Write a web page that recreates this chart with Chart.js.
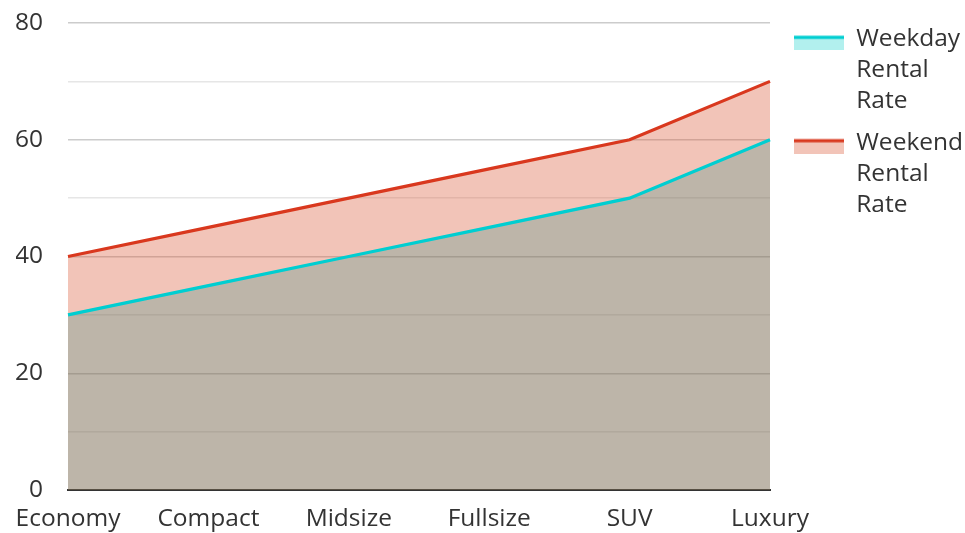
<!DOCTYPE html>
<html><head><meta charset="utf-8">
<script src="https://cdn.jsdelivr.net/npm/chart.js@4/dist/chart.umd.min.js"></script>
<style>html,body{margin:0;padding:0;background:#fff;overflow:hidden}#wrap{width:965px;height:533px}</style>
</head><body><div id="wrap"><canvas id="c" width="965" height="533"></canvas></div>
<script>
const categories = ['Economy', 'Compact', 'Midsize', 'Fullsize', 'SUV', 'Luxury'];
const weekdayRates = [30, 35, 40, 45, 50, 60];
const weekendRates = [40, 45, 50, 55, 60, 70];
const seriesNames = ['Weekday Rental Rate', 'Weekend Rental Rate'];
const yLabelStep = 20;

const FONT = "'Open Sans', 'Noto Sans', sans-serif";
const TEXT = '#333333';
const FS = 24.5;

function makeSwatch(lineColor, boxColor) {
  const c = document.createElement('canvas');
  c.width = 64; c.height = 22;
  const g = c.getContext('2d');
  g.fillStyle = boxColor; g.fillRect(14, 10, 50, 12);
  g.fillStyle = lineColor; g.fillRect(14, 7.5, 50, 3.2);
  return c;
}
const swatches = [makeSwatch('#00ced1', '#b2f0ee'), makeSwatch('#d9381e', '#f2c4b8')];

new Chart(document.getElementById('c'), {
  type: 'line',
  data: {
    labels: categories,
    datasets: [
      { label: seriesNames[0], data: weekdayRates, borderColor: '#00ced1', borderWidth: 3.2,
        backgroundColor: 'rgba(123,107,83,0.5)', fill: 'origin', pointRadius: 0, tension: 0 },
      { label: seriesNames[1], data: weekendRates, borderColor: '#d9381e', borderWidth: 3.2,
        backgroundColor: 'rgba(218,86,52,0.35)', fill: '-1', pointRadius: 0, tension: 0 }
    ]
  },
  options: {
    responsive: false,
    animation: false,
    layout: { padding: { left: 16, right: 0, top: 0, bottom: 0 } },
    plugins: {
      tooltip: { enabled: false },
      legend: {
        position: 'right', align: 'start', maxWidth: 195,
        title: { display: true, text: '', font: { size: 10, lineHeight: 1 }, padding: { top: 0, bottom: 7 } },
        labels: {
          usePointStyle: true, pointStyleWidth: 64, boxHeight: 22,
          padding: 10, color: TEXT,
          font: { family: FONT, size: FS, lineHeight: 1.27 },
          generateLabels(chart) {
            const items = Chart.defaults.plugins.legend.labels.generateLabels(chart);
            return items.map((it, i) => Object.assign(it, {
              text: String(it.text).split(' '),
              pointStyle: swatches[i]
            }));
          }
        }
      }
    },
    scales: {
      x: {
        offset: false,
        afterFit(s) { s.height = 43; },
        grid: { display: false, drawTicks: false },
        border: { display: true, color: '#333333', width: 2 },
        ticks: { color: TEXT, padding: 14, font: { family: FONT, size: FS }, maxRotation: 0, autoSkip: false }
      },
      y: {
        min: 0, max: 80,
        afterFit(s) { s.paddingTop = 23; s.width = 52; },
        grid: {
          drawTicks: false, lineWidth: 1.5,
          color: (ctx) => (ctx.tick && ctx.tick.value % yLabelStep === 0) ? '#cccccc' : '#e6e6e6'
        },
        border: { display: false },
        ticks: {
          stepSize: 10, padding: 25, color: TEXT,
          font: { family: FONT, size: FS },
          callback: (v) => (v % yLabelStep === 0 ? v : '')
        }
      }
    }
  }
});
</script></body></html>
